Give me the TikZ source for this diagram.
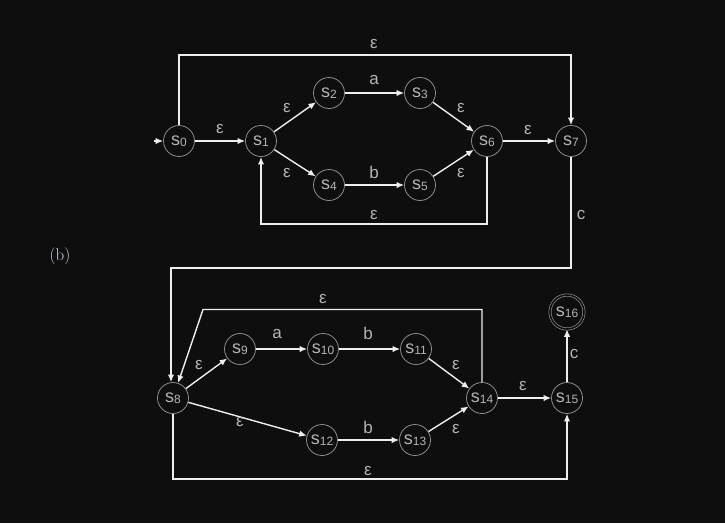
\documentclass[tikz,border=0pt]{standalone}
\usepackage{fontspec}
\setsansfont{Liberation Sans}
\usetikzlibrary{arrows.meta}
\definecolor{bgc}{HTML}{0E0E0E}
\definecolor{linec}{HTML}{EEEEEE}
\definecolor{circc}{HTML}{8C8C8C}
\definecolor{txtc}{HTML}{B4B4B4}
\definecolor{capc}{HTML}{C8D2E6}
\newcommand{\stn}[1]{{\fontsize{18}{18}\selectfont s}\raisebox{-0.25ex}{\fontsize{12}{12}\selectfont #1}}
\tikzset{
  state/.style={circle, draw=circc, line width=0.8pt, minimum size=31pt, inner sep=0pt, text=txtc, font=\sffamily},
  accept/.style={state, double=bgc, double distance=1.6pt, line width=0.7pt, minimum size=34pt},
  edge/.style={draw=linec, line width=1.4pt, -{Latex[length=7.5pt,width=6.5pt]}},
  lbl/.style={text=txtc, font=\sffamily\fontsize{17}{17}\selectfont, inner sep=0pt}
}
\begin{document}
\begin{tikzpicture}[x=1pt,y=-1pt]
\fill[bgc] (0,0) rectangle (725,523);
\useasboundingbox (0,0) rectangle (725,523);
% top automaton
\node[state] (s0) at (179,141) {\stn{0}};
\node[state] (s1) at (261,141) {\stn{1}};
\node[state] (s2) at (329,93) {\stn{2}};
\node[state] (s3) at (420,93) {\stn{3}};
\node[state] (s4) at (329,185) {\stn{4}};
\node[state] (s5) at (420,185) {\stn{5}};
\node[state] (s6) at (487,141) {\stn{6}};
\node[state] (s7) at (571,141) {\stn{7}};
% bottom automaton
\node[state] (s8) at (173,398) {\stn{8}};
\node[state] (s9) at (240,349) {\stn{9}};
\node[state] (s10) at (323,349) {\stn{10}};
\node[state] (s11) at (416,349) {\stn{11}};
\node[state] (s12) at (322,440) {\stn{12}};
\node[state] (s13) at (415,440) {\stn{13}};
\node[state] (s14) at (482,398) {\stn{14}};
\node[state] (s15) at (567,398) {\stn{15}};
\node[accept] (s16) at (567,312) {\stn{16}};

\node[text=capc, font=\fontsize{17}{17}\selectfont, inner sep=0pt] (cap) at (60,256) {(b)};

\coordinate (start) at (154,141);
\coordinate (ya) at (0,55);
\coordinate (yb) at (0,224);
\coordinate (yc) at (0,268);
\coordinate (xc) at (171,0);
\coordinate (yd) at (0,309.5);
\coordinate (bend) at (203,309.5);
\coordinate (ye) at (0,479);

% edges top
\draw[edge] (start) -- (s0);
\draw[edge] (s0) -- (s1);
\draw[edge] (s0.north) -- (s0.north |- ya) -| (s7.north);
\draw[edge] (s1) -- (s2);
\draw[edge] (s1) -- (s4);
\draw[edge] (s2) -- (s3);
\draw[edge] (s4) -- (s5);
\draw[edge] (s3) -- (s6);
\draw[edge] (s5) -- (s6);
\draw[edge] (s6.south) -- (s6.south |- yb) -| (s1.south);
\draw[edge] (s6) -- (s7);
\draw[edge] (s7.south) -- (s7.south |- yc) -- (xc |- yc) -- (xc |- s8.north);
% edges bottom
\draw[edge] (s8) -- (s9);
\draw[edge] (s8) -- (s12);
\draw[edge] (s9) -- (s10);
\draw[edge] (s10) -- (s11);
\draw[edge] (s12) -- (s13);
\draw[edge] (s11) -- (s14);
\draw[edge] (s13) -- (s14);
\draw[edge] (s14.north) -- (s14.north |- yd) -- (bend) -- (s8);
\draw[edge] (s14) -- (s15);
\draw[edge] (s8.south) -- (s8.south |- ye) -| (s15.south);
\draw[edge] (s15) -- (s16);

% labels
\node[lbl] at (220,129) {ε};
\node[lbl] at (374,44) {ε};
\node[lbl] at (287,108) {ε};
\node[lbl] at (287,173) {ε};
\node[lbl] at (374,80) {a};
\node[lbl] at (374,172) {b};
\node[lbl] at (461,108) {ε};
\node[lbl] at (461,173) {ε};
\node[lbl] at (374,215) {ε};
\node[lbl] at (528,130) {ε};
\node[lbl] at (581,215) {c};
\node[lbl] at (199,365) {ε};
\node[lbl] at (240,422) {ε};
\node[lbl] at (277,334) {a};
\node[lbl] at (368,333) {b};
\node[lbl] at (368,427) {b};
\node[lbl] at (456,365) {ε};
\node[lbl] at (456,429) {ε};
\node[lbl] at (323,299) {ε};
\node[lbl] at (523,386) {ε};
\node[lbl] at (368,471) {ε};
\node[lbl] at (574,354) {c};
\end{tikzpicture}
\end{document}
